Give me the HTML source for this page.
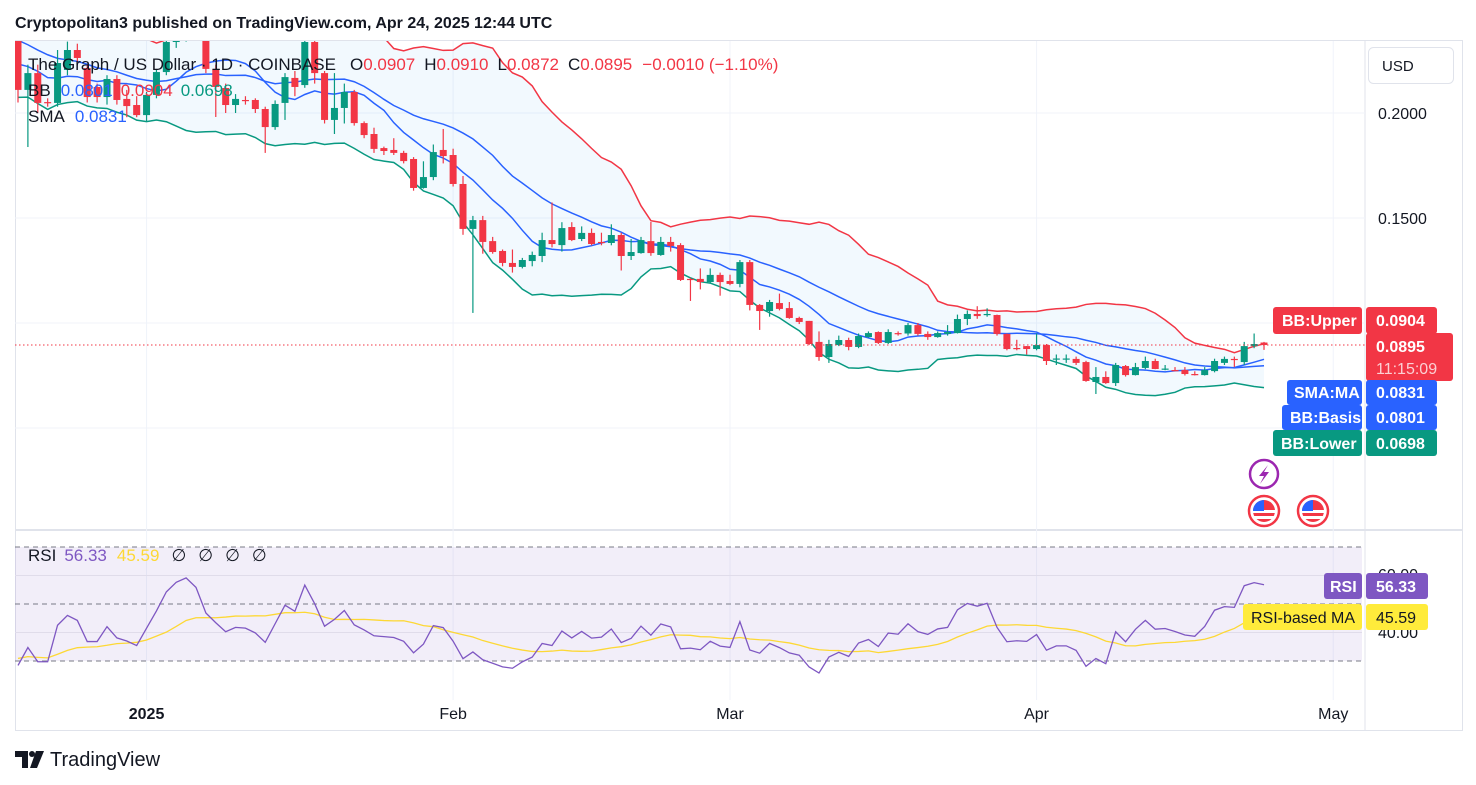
<!DOCTYPE html>
<html><head><meta charset="utf-8">
<style>
html,body{margin:0;padding:0;background:#fff;}
svg{display:block;font-family:"Liberation Sans",sans-serif;}
</style></head>
<body>
<svg id="chart" width="1476" height="785" viewBox="0 0 1476 785" xmlns="http://www.w3.org/2000/svg">
  <defs>
    <clipPath id="mainClip"><rect x="15" y="41" width="1350" height="488"/></clipPath>
    <clipPath id="rsiClip"><rect x="15" y="531" width="1350" height="168"/></clipPath>
  </defs>
  <text x="15" y="28" font-size="16" font-weight="bold" fill="#131722">Cryptopolitan3 published on TradingView.com, Apr 24, 2025 12:44 UTC</text>
  <rect x="15.5" y="40.5" width="1447" height="690" fill="none" stroke="#e0e3eb"/>
  <line x1="1365" y1="40" x2="1365" y2="731" stroke="#e0e3eb"/>
  <line x1="15" y1="530" x2="1463" y2="530" stroke="#e0e3eb" stroke-width="2"/>
  <g id="grid"></g>
  <g id="main" clip-path="url(#mainClip)"></g>
  <g id="rsi" clip-path="url(#rsiClip)"></g>
  <g id="axes"></g>

  <!-- legends -->
  <g font-size="17">
    <text x="28" y="70" fill="#131722">The Graph / US Dollar · 1D · COINBASE</text>
    <text x="350" y="70"><tspan fill="#131722">O</tspan><tspan fill="#F23645">0.0907</tspan><tspan fill="#131722" dx="9">H</tspan><tspan fill="#F23645">0.0910</tspan><tspan fill="#131722" dx="9">L</tspan><tspan fill="#F23645">0.0872</tspan><tspan fill="#131722" dx="9">C</tspan><tspan fill="#F23645">0.0895</tspan><tspan fill="#F23645" dx="10">−0.0010 (−1.10%)</tspan></text>
    <text x="28" y="96"><tspan fill="#131722">BB</tspan><tspan fill="#2962FF" dx="10">0.0801</tspan><tspan fill="#F23645" dx="8">0.0904</tspan><tspan fill="#089981" dx="8">0.0698</tspan></text>
    <text x="28" y="122"><tspan fill="#131722">SMA</tspan><tspan fill="#2962FF" dx="10">0.0831</tspan></text>
  </g>
  <g font-size="17">
    <text x="28" y="561"><tspan fill="#131722">RSI</tspan><tspan fill="#7E57C2" dx="8">56.33</tspan><tspan fill="#FDD835" dx="10">45.59</tspan><tspan fill="#131722" dx="12">∅</tspan><tspan fill="#131722" dx="12">∅</tspan><tspan fill="#131722" dx="12">∅</tspan><tspan fill="#131722" dx="12">∅</tspan></text>
  </g>

  <!-- USD button -->
  <g>
    <rect x="1368.5" y="47.5" width="85" height="36" rx="5" fill="#fff" stroke="#e0e3eb"/>
    <text x="1382" y="71" font-size="15" fill="#131722">USD</text>
  </g>

  <!-- price labels -->
  <g font-size="16" font-weight="bold" fill="#fff">
    <g>
      <rect x="1273" y="307" width="89" height="27" rx="3" fill="#F23645"/>
      <text x="1282" y="326">BB:Upper</text>
      <rect x="1366" y="307" width="71" height="27" rx="3" fill="#F23645"/>
      <text x="1376" y="326">0.0904</text>
    </g>
    <g>
      <rect x="1366" y="333" width="87" height="48" rx="3" fill="#F23645"/>
      <text x="1376" y="352">0.0895</text>
      <text x="1376" y="374" font-weight="normal" fill="#fbd0d4">11:15:09</text>
    </g>
    <g>
      <rect x="1287" y="380" width="75" height="25" rx="3" fill="#2962FF"/>
      <text x="1294" y="398">SMA:MA</text>
      <rect x="1366" y="380" width="71" height="25" rx="3" fill="#2962FF"/>
      <text x="1376" y="398">0.0831</text>
    </g>
    <g>
      <rect x="1282" y="405" width="80" height="25" rx="3" fill="#2962FF"/>
      <text x="1290" y="423">BB:Basis</text>
      <rect x="1366" y="405" width="71" height="25" rx="3" fill="#2962FF"/>
      <text x="1376" y="423">0.0801</text>
    </g>
    <g>
      <rect x="1273" y="430" width="89" height="26" rx="3" fill="#089981"/>
      <text x="1281" y="449">BB:Lower</text>
      <rect x="1366" y="430" width="71" height="26" rx="3" fill="#089981"/>
      <text x="1376" y="449">0.0698</text>
    </g>
  </g>

  <!-- event icons -->
  <g>
    <circle cx="1264" cy="474" r="14" fill="#fff" stroke="#9C27B0" stroke-width="2.5"/>
    <path d="M1268 465 L1259 476 L1264 476 L1260 484 L1269 472 L1264 472 Z" fill="#9C27B0"/>
  </g>
  <g>
    <circle cx="1264" cy="511" r="15" fill="#fff" stroke="#F23645" stroke-width="2.5"/>
    <circle cx="1264" cy="511" r="11" fill="#F23645"/>
    <rect x="1253" y="510" width="22" height="3" fill="#fff"/>
    <rect x="1253" y="516" width="22" height="3" fill="#fff"/>
    <path d="M1253 511 A11 11 0 0 1 1264 500 L1264 511 Z" fill="#2962FF"/>
  </g>
  <g>
    <circle cx="1313" cy="511" r="15" fill="#fff" stroke="#F23645" stroke-width="2.5"/>
    <circle cx="1313" cy="511" r="11" fill="#F23645"/>
    <rect x="1302" y="510" width="22" height="3" fill="#fff"/>
    <rect x="1302" y="516" width="22" height="3" fill="#fff"/>
    <path d="M1302 511 A11 11 0 0 1 1313 500 L1313 511 Z" fill="#2962FF"/>
  </g>

  <!-- RSI labels -->
  <g font-size="16">
    <text x="1378" y="580" fill="#131722">60.00</text>
    <text x="1378" y="638" fill="#131722">40.00</text>
    <g font-weight="bold">
      <rect x="1324" y="573" width="38" height="26" rx="3" fill="#7E57C2"/>
      <text x="1330" y="592" fill="#fff">RSI</text>
      <rect x="1366" y="573" width="62" height="26" rx="3" fill="#7E57C2"/>
      <text x="1376" y="592" fill="#fff">56.33</text>
    </g>
    <g>
      <rect x="1243" y="604" width="119" height="26" rx="3" fill="#FFEB3B"/>
      <text x="1251" y="623" fill="#131722">RSI-based MA</text>
      <rect x="1366" y="604" width="62" height="26" rx="3" fill="#FFEB3B"/>
      <text x="1376" y="623" fill="#131722">45.59</text>
    </g>
  </g>

  <!-- footer -->
  <g>
    <path d="M15 751 H28 V768 H22 V757 H15 Z" fill="#131722"/>
    <circle cx="32" cy="754" r="3" fill="#131722"/>
    <path d="M36 751 H44 L37 768 H30 Z" fill="#131722"/>
    <text x="50" y="766" font-size="20" fill="#131722">TradingView</text>
  </g>
</svg>
<script>
const opens=[0.2371,0.2110,0.2190,0.2052,0.2048,0.2205,0.2300,0.2214,0.2124,0.2076,0.2162,0.2067,0.2038,0.1990,0.2086,0.2195,0.2338,0.2420,0.2460,0.2400,0.2210,0.2119,0.2038,0.2062,0.2062,0.2019,0.1933,0.2048,0.2167,0.2133,0.2338,0.2190,0.1967,0.2024,0.2100,0.1952,0.1900,0.1833,0.1824,0.1810,0.1781,0.1643,0.1695,0.1824,0.1800,0.1662,0.1448,0.1490,0.1390,0.1343,0.1286,0.1267,0.1295,0.1319,0.1395,0.1371,0.1457,0.1400,0.1429,0.1386,0.1381,0.1419,0.1319,0.1333,0.1390,0.1324,0.1386,0.1371,0.1210,0.1210,0.1195,0.1229,0.1200,0.1186,0.1290,0.1086,0.1057,0.1095,0.1071,0.1024,0.1010,0.0910,0.0838,0.0895,0.0919,0.0886,0.0933,0.0957,0.0905,0.0952,0.0950,0.0990,0.0948,0.0933,0.0948,0.0952,0.1019,0.1043,0.1040,0.1038,0.0948,0.0881,0.0890,0.0876,0.0895,0.0829,0.0829,0.0829,0.0814,0.0719,0.0743,0.0714,0.0795,0.0752,0.0786,0.0819,0.0781,0.0776,0.0776,0.0757,0.0752,0.0771,0.0810,0.0829,0.0814,0.0890,0.0907];
const highs=[0.2450,0.2230,0.2230,0.2070,0.2300,0.2340,0.2330,0.2230,0.2140,0.2180,0.2180,0.2110,0.2080,0.2100,0.2210,0.2360,0.2450,0.2500,0.2480,0.2420,0.2230,0.2140,0.2090,0.2080,0.2070,0.2030,0.2060,0.2190,0.2200,0.2400,0.2400,0.2200,0.2190,0.2140,0.2110,0.1960,0.1930,0.1840,0.1880,0.1820,0.1790,0.1770,0.1850,0.1924,0.1830,0.1700,0.1510,0.1510,0.1410,0.1350,0.1350,0.1310,0.1340,0.1430,0.1574,0.1480,0.1480,0.1460,0.1450,0.1430,0.1470,0.1430,0.1400,0.1410,0.1481,0.1410,0.1410,0.1380,0.1215,0.1260,0.1260,0.1240,0.1230,0.1300,0.1300,0.1090,0.1110,0.1140,0.1100,0.1030,0.1010,0.0960,0.0920,0.0940,0.0930,0.0950,0.0960,0.0960,0.0970,0.0960,0.1000,0.1000,0.0960,0.0960,0.0990,0.1040,0.1060,0.1080,0.1070,0.1040,0.0950,0.0920,0.0890,0.0950,0.0900,0.0850,0.0850,0.0840,0.0820,0.0790,0.0770,0.0810,0.0800,0.0810,0.0840,0.0830,0.0800,0.0790,0.0790,0.0770,0.0790,0.0830,0.0840,0.0840,0.0910,0.0950,0.0910];
const lows=[0.2050,0.1838,0.2000,0.2030,0.2030,0.2180,0.2240,0.2050,0.2050,0.2040,0.2040,0.1980,0.1980,0.1960,0.2070,0.2180,0.2310,0.2340,0.2380,0.2190,0.1981,0.2000,0.2000,0.2040,0.2000,0.1810,0.1920,0.1967,0.2080,0.2120,0.2140,0.1950,0.1900,0.1950,0.1940,0.1880,0.1810,0.1800,0.1800,0.1760,0.1630,0.1640,0.1680,0.1760,0.1650,0.1420,0.1048,0.1330,0.1330,0.1270,0.1240,0.1260,0.1270,0.1290,0.1360,0.1340,0.1390,0.1390,0.1370,0.1370,0.1370,0.1250,0.1300,0.1330,0.1320,0.1320,0.1340,0.1200,0.1105,0.1160,0.1190,0.1130,0.1180,0.1170,0.1060,0.0967,0.1030,0.1060,0.1020,0.0995,0.0895,0.0820,0.0810,0.0890,0.0870,0.0880,0.0930,0.0900,0.0900,0.0940,0.0940,0.0940,0.0920,0.0930,0.0940,0.0950,0.0990,0.1020,0.1030,0.0940,0.0870,0.0870,0.0850,0.0870,0.0800,0.0800,0.0810,0.0800,0.0720,0.0662,0.0710,0.0700,0.0745,0.0750,0.0780,0.0780,0.0775,0.0770,0.0750,0.0750,0.0750,0.0765,0.0800,0.0790,0.0800,0.0880,0.0872];
const closes=[0.2110,0.2190,0.2048,0.2048,0.2238,0.2300,0.2262,0.2076,0.2076,0.2162,0.2062,0.2033,0.1990,0.2086,0.2195,0.2338,0.2420,0.2460,0.2400,0.2210,0.2124,0.2038,0.2067,0.2060,0.2019,0.1933,0.2043,0.2171,0.2124,0.2338,0.2190,0.1967,0.2024,0.2100,0.1952,0.1895,0.1829,0.1819,0.1810,0.1771,0.1643,0.1695,0.1814,0.1795,0.1662,0.1448,0.1490,0.1386,0.1338,0.1286,0.1267,0.1300,0.1324,0.1395,0.1376,0.1452,0.1395,0.1429,0.1376,0.1381,0.1419,0.1319,0.1338,0.1395,0.1333,0.1386,0.1367,0.1205,0.1208,0.1195,0.1229,0.1195,0.1186,0.1290,0.1086,0.1057,0.1100,0.1067,0.1024,0.1005,0.0900,0.0838,0.0900,0.0919,0.0886,0.0938,0.0952,0.0905,0.0957,0.0950,0.0990,0.0948,0.0933,0.0952,0.0957,0.1019,0.1043,0.1033,0.1043,0.0948,0.0876,0.0879,0.0876,0.0895,0.0819,0.0831,0.0831,0.0810,0.0724,0.0743,0.0714,0.0800,0.0752,0.0790,0.0819,0.0781,0.0783,0.0771,0.0757,0.0752,0.0776,0.0819,0.0829,0.0827,0.0890,0.0900,0.0895];
const warmupCloses=[0.262,0.255,0.250,0.258,0.245,0.240,0.235,0.242,0.232,0.228,0.236,0.230,0.225,0.232,0.226,0.222,0.228,0.220,0.216];
const priceTicks=[0.2,0.15];
const priceTickLabels=["0.2000","0.1500"];
const timeLabels=["2025","Feb","Mar","Apr","May"];
const timeIndex=[13,44,72,103,133];
const rsiLevels=[70,50,30];

const NS="http://www.w3.org/2000/svg";
function xOf(i){return 18+i*9.889;}
function yP(p){return 113+(0.2-p)*2100;}
function yR(v){return 604-(v-50)*2.85;}
function mk(tag,attrs,parent){const e=document.createElementNS(NS,tag);for(const k in attrs)e.setAttribute(k,attrs[k]);parent.appendChild(e);return e;}

const grid=document.getElementById('grid'),main=document.getElementById('main'),rsiG=document.getElementById('rsi'),axes=document.getElementById('axes');
priceTicks.concat([0.1,0.05]).forEach(p=>{
  const l=mk('line',{x1:15,x2:1365,y1:yP(p),y2:yP(p),stroke:'#f0f3fa'},grid);
  
  
});
timeIndex.forEach((ti,k)=>{
  const l=mk('line',{x1:xOf(ti),x2:xOf(ti),y1:41,y2:700,stroke:'#f0f3fa'},grid);
  
  
  const t=mk('text',{x:xOf(ti),y:719,'text-anchor':'middle','font-size':16,fill:'#131722','font-weight':ti===13?'bold':'normal'},axes);
  t.textContent=timeLabels[k];
  
  
});
priceTicks.forEach((p,k)=>{
  const t=mk('text',{x:1378,y:yP(p)+6,'font-size':16,fill:'#131722'},axes);
  t.textContent=priceTickLabels[k];
  
  
});

const all=warmupCloses.concat(closes);const W=warmupCloses.length;
const basis=[],upper=[],lower=[],sma9=[];
for(let i=0;i<closes.length;i++){
  const j=W+i;const s=Math.max(0,j-19);const win=all.slice(s,j+1);
  const m=win.reduce((a,b)=>a+b,0)/win.length;
  const sd=Math.sqrt(win.reduce((a,b)=>a+(b-m)*(b-m),0)/win.length);
  basis.push(m);upper.push(m+2*sd);lower.push(m-2*sd);
  const w9=all.slice(Math.max(0,j-8),j+1);sma9.push(w9.reduce((a,b)=>a+b,0)/w9.length);
}
let d='';upper.forEach((v,i)=>{d+=(i?'L':'M')+xOf(i)+' '+yP(v);});
for(let i=lower.length-1;i>=0;i--)d+='L'+xOf(i)+' '+yP(lower[i]);
const band=mk('path',{d:d+'Z',fill:'rgba(33,150,243,0.06)'},main);


function line(arr,color,name,yf,parent,w){
  const pts=arr.map((v,i)=>xOf(i)+','+yf(v)).join(' ');
  const e=mk('polyline',{points:pts,fill:'none',stroke:color,'stroke-width':w||1.5},parent);
  
  
}
line(upper,'#F23645','bb-upper-line',yP,main);
line(lower,'#089981','bb-lower-line',yP,main);
line(basis,'#2962FF','bb-basis-line',yP,main);
line(sma9,'#2962FF','sma-line',yP,main);
for(let i=0;i<closes.length;i++){
  const up=closes[i]>=opens[i];const col=up?'#089981':'#F23645';const x=xOf(i);
  const g=mk('g',{},main);
  
  
  mk('line',{x1:x,x2:x,y1:yP(highs[i]),y2:yP(lows[i]),stroke:col,'stroke-width':1.2},g);
  const t=yP(Math.max(opens[i],closes[i])),b=yP(Math.min(opens[i],closes[i]));
  mk('rect',{x:x-3.5,y:t,width:7,height:Math.max(1.2,b-t),fill:col},g);
}
const lp=mk('line',{x1:15,x2:1365,y1:yP(closes[closes.length-1]),y2:yP(closes[closes.length-1]),stroke:'#F23645','stroke-dasharray':'1.5 2.5'},main);



let ag=0,al=0;const rsiAll=[];
for(let j=1;j<all.length;j++){
  const ch=all[j]-all[j-1];const g=Math.max(ch,0),l=Math.max(-ch,0);
  if(j<=14){ag+=g/14;al+=l/14;}else{ag=(ag*13+g)/14;al=(al*13+l)/14;}
  rsiAll[j]=al===0?100:100-100/(1+ag/al);
}
const rsiVals=closes.map((c,i)=>rsiAll[W+i]);
const rsiMA=rsiVals.map((v,i)=>{const w=rsiAll.slice(Math.max(15,W+i-13),W+i+1);return w.reduce((a,b)=>a+b,0)/w.length;});
const bg=mk('rect',{x:15,y:yR(70),width:1347,height:yR(30)-yR(70),fill:'rgba(126,87,194,0.1)'},rsiG);


[60,40].forEach(v=>{const l=mk('line',{x1:15,x2:1362,y1:yR(v),y2:yR(v),stroke:'#e0dcea'},rsiG);
  
  });
rsiLevels.forEach(v=>{const l=mk('line',{x1:15,x2:1362,y1:yR(v),y2:yR(v),stroke:'#787B86','stroke-dasharray':'5 4'},rsiG);
  
  });
line(rsiMA,'#FDD835','rsi-ma-line',yR,rsiG,1.3);
line(rsiVals,'#7E57C2','rsi-line',yR,rsiG,1.3);
</script>
</body></html>
